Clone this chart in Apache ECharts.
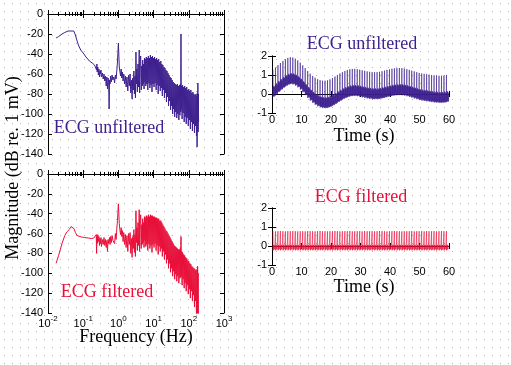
<!DOCTYPE html>
<html><head><meta charset="utf-8">
<script src="https://cdn.jsdelivr.net/npm/echarts@6/dist/echarts.min.js"></script>
<style>
html,body{margin:0;padding:0;width:511px;height:365px;overflow:hidden;
background:#fff url("data:image/svg+xml;utf8,<svg xmlns='http://www.w3.org/2000/svg' width='8' height='8' shape-rendering='crispEdges'><rect x='4' y='3' width='1' height='1' fill='%23b4b4b4'/></svg>") repeat;}
#c{width:511px;height:365px}
</style></head>
<body><div id="c"></div>
<script>
// ---- spectrum: unfiltered ECG (Hz, dB)
const unfFreq = [0.017,0.02,0.025,0.03,0.037,0.045,0.054,0.06,0.067,0.075,0.085,0.1,0.12,0.15,0.18,0.21,0.23,0.24,0.245,0.25,0.26,0.27,0.28,0.29,0.30,0.31,0.32,0.33,0.35,0.37,0.39,0.41,0.43,0.45,0.47,0.49,0.51,0.53,0.545,0.56,0.58,0.6,0.63,0.66,0.7,0.74,0.78,0.82,0.86,0.9,0.94,0.97,1.0,
1.03,1.06,1.1,1.15,1.2,1.25,1.3,1.36,1.42,1.5,1.58,1.66,1.75,1.85,1.95,2.05,2.15,2.25,2.35,2.45,2.55,2.65,2.75,2.85,2.95,3.05,3.15,3.25,3.35,3.45,3.6,3.75,3.9,4.0,4.15,4.3,4.45,4.6,4.75,4.9,5.05,5.2,5.35,5.5,5.65,
5.8,6.0,6.2,6.4,6.6,6.85,7.1,7.35,7.6,7.85,8.1,8.4,8.7,9.0,9.3,9.6,9.95,10.3,10.65,11.0,11.4,11.8,12.2,12.6,13.05,13.5,13.95,14.45,14.95,15.45,16.0,16.55,17.1,17.7,18.3,18.95,19.6,20.3,21.0,21.7,22.45,23.2,24.0,24.85,25.7,26.6,27.5,28.45,29.4,30.4,31.45,32.5,33.6,34.8,36.0,37.2,38.5,39.8,41.2,42.6,44.1,45.6,47.2,48.8,50.5,52.2,54.0,55.9,57.8,59.0,60.0,61.0,62.5,64.5,66.7,69.0,71.4,73.9,76.4,79.0,81.7,84.5,87.4,90.4,93.5,96.7,100,103.5,107,110.7,114.5,118.4,122.5,126.7,131,135.5,140,145,150,155,160,165,170,172,175,178,181,184,187,190];
const unfMag = [-24,-22.5,-20,-18.5,-17,-17,-17,-21,-27,-32,-36,-39,-43,-47,-49,-51,-52,-56,-50,-58,-53,-61,-55,-63,-57,-60,-56,-63,-59,-65,-60,-67,-62,-72,-63,-75,-64,-68,-95,-66,-70,-62,-68,-61,-66,-63,-69,-61,-65,-57,-48,-38,-29,
-41,-53,-57,-62,-55,-64,-58,-67,-60,-70,-62,-73,-63,-77,-61,-72,-60,-79,-66,-85,-64,-76,-57,-80,-62,-84,-38,-70,-55,-78,-50,-73,-36,-79,-47,-42,-76,-52,-72,-46,-70,-50,-75,-44,-68,
-45,-72,-43,-70,-44,-76,-42,-69,-44,-74,-41,-71,-43,-78,-42,-70,-44,-73,-43,-69,-45,-76,-44,-71,-46,-80,-45,-72,-48,-77,-47,-74,-50,-82,-51,-76,-53,-84,-54,-79,-56,-88,-57,-83,-59,-92,-61,-87,-63,-96,-64,-92,-66,-100,-68,-95,-69,-103,-70,-98,-71,-104,-70,-100,-72,-106,-71,-101,-70,-98,-20,-96,-72,-105,-71,-99,-73,-108,-72,-103,-74,-110,-73,-104,-76,-112,-75,-106,-77,-115,-76,-108,-79,-117,-78,-110,-80,-119,-81,-112,-80,-122,-82,-133,-79,-115,-69,-118,-80,-108];

// ---- spectrum: filtered ECG (Hz, dB)
const filFreq = [0.017,0.02,0.025,0.03,0.035,0.04,0.045,0.05,0.055,0.06,0.067,0.075,0.09,0.11,0.14,0.17,0.2,0.22,0.235,0.24,0.245,0.25,0.26,0.27,0.28,0.29,0.30,0.31,0.32,0.33,0.35,0.37,0.39,0.41,0.43,0.45,0.47,0.49,0.51,0.53,0.56,0.58,0.6,0.63,0.66,0.7,0.74,0.78,0.82,0.86,0.9,0.94,0.97,1.0,
1.03,1.06,1.1,1.15,1.2,1.25,1.3,1.36,1.42,1.5,1.58,1.66,1.75,1.85,1.95,2.05,2.15,2.25,2.35,2.45,2.55,2.65,2.75,2.85,2.95,3.05,3.15,3.25,3.35,3.45,3.6,3.75,3.9,4.0,4.15,4.3,4.45,4.6,4.75,4.9,5.05,5.2,5.35,5.5,5.65,
5.8,6.0,6.2,6.4,6.6,6.85,7.1,7.35,7.6,7.85,8.1,8.4,8.7,9.0,9.3,9.6,9.95,10.3,10.65,11.0,11.4,11.8,12.2,12.6,13.05,13.5,13.95,14.45,14.95,15.45,16.0,16.55,17.1,17.7,18.3,18.95,19.6,20.3,21.0,21.7,22.45,23.2,24.0,24.85,25.7,26.6,27.5,28.45,29.4,30.4,31.45,32.5,33.6,34.8,36.0,37.2,38.5,39.8,41.2,42.6,44.1,45.6,47.2,48.8,50.5,52.2,54.0,55.9,57.8,59.0,60.0,61.0,62.5,64.5,66.7,69.0,71.4,73.9,76.4,79.0,81.7,84.5,87.4,90.4,93.5,96.7,100,103.5,107,110.7,114.5,118.4,122.5,126.7,131,135.5,140,145,150,155,160,165,170,175,178,181,184,187];
const filMag = [-90,-82,-70,-62,-58,-56,-53,-52,-55,-59,-62,-63,-63.5,-64,-64.5,-65,-64.5,-63.5,-61,-80,-62,-70,-61,-68,-63,-72,-65,-70,-64,-73,-66,-71,-64,-72,-66,-74,-67,-78,-66,-70,-64,-71,-63,-69,-62,-67,-65,-70,-60,-66,-55,-47,-38,-30,
-40,-50,-56,-61,-54,-63,-57,-68,-59,-71,-61,-74,-62,-78,-60,-71,-59,-80,-65,-84,-63,-75,-56,-79,-61,-83,-37,-69,-54,-77,-49,-72,-36,-78,-46,-41,-75,-51,-71,-45,-69,-49,-74,-43,-67,
-44,-73,-42,-71,-43,-77,-41,-70,-43,-75,-41,-72,-42,-79,-42,-71,-43,-74,-43,-70,-44,-77,-44,-72,-45,-81,-45,-73,-47,-78,-47,-75,-49,-83,-51,-78,-53,-86,-55,-81,-57,-90,-58,-86,-60,-95,-62,-90,-64,-99,-66,-95,-68,-103,-70,-98,-72,-106,-73,-101,-74,-108,-75,-103,-76,-110,-76,-105,-74,-104,-63,-103,-78,-112,-79,-106,-81,-115,-82,-110,-84,-118,-85,-112,-87,-121,-88,-116,-90,-125,-91,-118,-93,-128,-94,-122,-95,-134,-96,-128,-97,-145,-96,-140,-93,-145,-100,-150];

// ---- time series: beat times (s), unfiltered baseline & R-peak, filtered R-peak
const beatTimes = [0.35,1.18,2.02,2.85,3.70,4.54,5.37,6.21,7.06,7.90,8.73,9.58,10.42,11.25,12.10,12.94,13.78,14.61,15.46,16.30,17.13,17.98,18.82,19.65,20.50,21.34,22.17,23.02,23.86,24.70,25.53,26.38,27.22,28.05,28.90,29.74,30.57,31.42,32.26,33.09,33.94,34.78,35.62,36.45,37.30,38.14,38.97,39.82,40.66,41.49,42.34,43.18,44.02,44.85,45.70,46.54,47.37,48.22,49.06,49.89,50.74,51.58,52.42,53.25,54.10,54.94,55.77,56.62,57.46,58.29,59.14];
const unfBase = [0.15,0.27,0.40,0.51,0.62,0.71,0.78,0.82,0.80,0.74,0.65,0.53,0.39,0.24,0.09,-0.05,-0.17,-0.27,-0.35,-0.41,-0.44,-0.45,-0.43,-0.38,-0.31,-0.23,-0.14,-0.06,0.02,0.08,0.13,0.17,0.19,0.19,0.18,0.15,0.12,0.09,0.06,0.04,0.02,0.02,0.02,0.04,0.07,0.10,0.14,0.17,0.20,0.22,0.23,0.24,0.23,0.21,0.18,0.14,0.10,0.06,0.02,-0.02,-0.05,-0.07,-0.09,-0.11,-0.13,-0.15,-0.16,-0.17,-0.17,-0.16,-0.13];
const unfPeak = [1.27,1.39,1.52,1.63,1.74,1.83,1.90,1.94,1.92,1.86,1.77,1.65,1.51,1.36,1.21,1.07,0.95,0.86,0.78,0.73,0.70,0.70,0.72,0.77,0.84,0.92,1.00,1.08,1.15,1.21,1.26,1.30,1.32,1.32,1.31,1.28,1.25,1.22,1.19,1.17,1.15,1.15,1.15,1.17,1.20,1.23,1.27,1.30,1.33,1.35,1.36,1.37,1.36,1.34,1.31,1.27,1.23,1.19,1.15,1.11,1.08,1.06,1.04,1.02,1.00,0.98,0.97,0.96,0.96,0.97,1.00];
const filPeak = [0.78,0.77,0.78,0.79,0.78,0.77,0.78,0.78,0.79,0.78,0.77,0.78,0.78,0.77,0.79,0.78,0.78,0.77,0.78,0.79,0.78,0.78,0.77,0.78,0.78,0.79,0.78,0.77,0.78,0.78,0.78,0.79,0.77,0.78,0.78,0.78,0.77,0.79,0.78,0.78,0.78,0.77,0.78,0.79,0.78,0.78,0.77,0.78,0.78,0.79,0.78,0.78,0.77,0.78,0.78,0.78,0.79,0.77,0.78,0.78,0.78,0.77,0.79,0.78,0.78,0.78,0.77,0.78,0.79,0.78,0.78];
const filBase = -0.05;
// beat waveform after the R peak: [seconds after R, level relative to baseline]
const unfShape = [[0.04,-0.30],[0.10,0.22],[0.17,-0.26],[0.25,0.28],[0.33,-0.22],[0.42,0.25],[0.50,-0.28],[0.60,0.20],[0.70,-0.25],[0.78,0.05]];
const filShape = [[0.04,-0.18],[0.12,0.10],[0.22,-0.14],[0.34,0.11],[0.48,-0.12],[0.62,0.07],[0.76,0.0]];

const logMajor = [0.01,0.1,1,10,100,1000];
const logMinor = [];
[0.01,0.1,1,10,100].forEach(d => { for (let k = 2; k <= 9; k++) logMinor.push(+(k*d).toPrecision(3)); });

const PURPLE = '#3d1f8e', RED = '#e8103a';
const SERIF = '"Liberation Serif", "DejaVu Serif", serif';
const SANS = '"Liberation Sans", Arial, sans-serif';

function pairs(xs, ys) { return xs.map((x, i) => [x, ys[i]]); }
function beats(times, base, peak, shape) {
  const out = [];
  times.forEach((t, i) => {
    const b = Array.isArray(base) ? base[i] : base;
    out.push([t, peak[i]]);
    shape.forEach(([dt, lv]) => out.push([t + dt, b + lv]));
  });
  return out;
}

const chart = echarts.init(document.getElementById('c'), null, {renderer: 'canvas'});

const grids = [
  {left: 48, top: 14, width: 176, height: 140},
  {left: 48, top: 174, width: 176, height: 139},
  {left: 272, top: 56, width: 177, height: 57},
  {left: 272, top: 208, width: 177, height: 57}
];

const xAxes = [], yAxes = [];
const lineStyle = {color: '#000', width: 1};
function logX(gi, showLabels) {
  const base = {type: 'log', logBase: 10, min: 0.01, max: 1000, gridIndex: gi, splitLine: {show: false}};
  const idx = xAxes.length;
  xAxes.push(Object.assign({}, base, {position: 'bottom', axisLine: {show: true, lineStyle}, 
    axisTick: {show: true, inside: true, length: 4, lineStyle, customValues: logMajor},
    axisLabel: {show: showLabels, margin: 2, customValues: logMajor, color: '#000',
      formatter: v => '{b|10}{s|' + Math.round(Math.log10(v)) + '}',
      rich: {b: {fontFamily: SANS, fontSize: 11, color: '#000', lineHeight: 14, verticalAlign: 'bottom'},
             s: {fontFamily: SANS, fontSize: 8, color: '#000', lineHeight: 8, verticalAlign: 'top'}}}}));
  xAxes.push(Object.assign({}, base, {position: 'bottom', axisLine: {show: false},
    axisTick: {show: true, inside: true, length: 2, lineStyle, customValues: logMinor}, axisLabel: {show: false}}));
  xAxes.push(Object.assign({}, base, {position: 'top', axisLine: {show: true, lineStyle},
    axisTick: {show: true, inside: true, length: 4, lineStyle, customValues: logMajor}, axisLabel: {show: false}}));
  xAxes.push(Object.assign({}, base, {position: 'top', axisLine: {show: false},
    axisTick: {show: true, inside: true, length: 2, lineStyle, customValues: logMinor}, axisLabel: {show: false}}));
  return idx;
}
function linX(gi) {
  const base = {type: 'value', min: 0, max: 60, interval: 10, gridIndex: gi, splitLine: {show: false}};
  const idx = xAxes.length;
  xAxes.push(Object.assign({}, base, {position: 'bottom', axisLine: {show: true, lineStyle},
    axisTick: {show: true, inside: true, length: 3, lineStyle},
    axisLabel: {margin: 1.5, fontFamily: SANS, fontSize: 11, color: '#000'}}));
  xAxes.push(Object.assign({}, base, {position: 'top', axisLine: {show: true, lineStyle},
    axisTick: {show: true, inside: true, length: 3, lineStyle}, axisLabel: {show: false}}));
  return idx;
}
function yAx(gi, min, max, interval) {
  const base = {type: 'value', min, max, interval, gridIndex: gi, splitLine: {show: false}};
  const idx = yAxes.length;
  yAxes.push(Object.assign({}, base, {position: 'left', axisLine: {show: true, lineStyle},
    axisTick: {show: true, inside: true, length: 4, lineStyle},
    axisLabel: {margin: 5, fontFamily: SANS, fontSize: 11, color: '#000'}}));
  yAxes.push(Object.assign({}, base, {position: 'right', axisLine: {show: true, lineStyle},
    axisTick: {show: true, inside: true, length: 4, lineStyle}, axisLabel: {show: false}}));
  return idx;
}

const x0 = logX(0, false), y0 = yAx(0, -140, 0, 20);
const x1 = logX(1, true),  y1 = yAx(1, -140, 0, 20);
const x2 = linX(2), y2 = yAx(2, -1, 2, 1);
const x3 = linX(3), y3 = yAx(3, -1, 2, 1);

function line(xi, yi, data, color, width) {
  return {type: 'line', xAxisIndex: xi, yAxisIndex: yi, data, showSymbol: false, symbol: 'none',
    clip: true, lineStyle: {color, width}, silent: true, animation: false};
}

function txt(x, y, text, opts) {
  return {type: 'text', x, y, style: Object.assign({text, fontFamily: SERIF, fontSize: 18, fill: '#000',
    align: 'center', verticalAlign: 'middle'}, opts || {})};
}

chart.setOption({
  animation: false,
  backgroundColor: 'transparent',
  grid: grids,
  xAxis: xAxes,
  yAxis: yAxes,
  series: [
    line(x0, y0, pairs(unfFreq, unfMag), PURPLE, 1),
    line(x1, y1, pairs(filFreq, filMag), RED, 1),
    line(x2, y2, beats(beatTimes, unfBase, unfPeak, unfShape), PURPLE, 0.6),
    line(x3, y3, beats(beatTimes, filBase, filPeak, filShape), RED, 0.6)
  ],
  graphic: [
    txt(109, 128, 'ECG unfiltered', {fill: PURPLE}),
    txt(107, 292, 'ECG filtered', {fill: RED}),
    txt(362, 44, 'ECG unfiltered', {fill: PURPLE}),
    txt(361, 197, 'ECG filtered', {fill: RED}),
    txt(136, 337, 'Frequency (Hz)'),
    txt(364, 136, 'Time (s)'),
    txt(364, 287, 'Time (s)'),
    {type: 'text', x: 13, y: 168, rotation: Math.PI / 2,
      style: {text: 'Magnitude (dB re. 1 mV)', fontFamily: SERIF, fontSize: 18, fill: '#000', align: 'center', verticalAlign: 'middle'}}
  ]
});
</script></body></html>
